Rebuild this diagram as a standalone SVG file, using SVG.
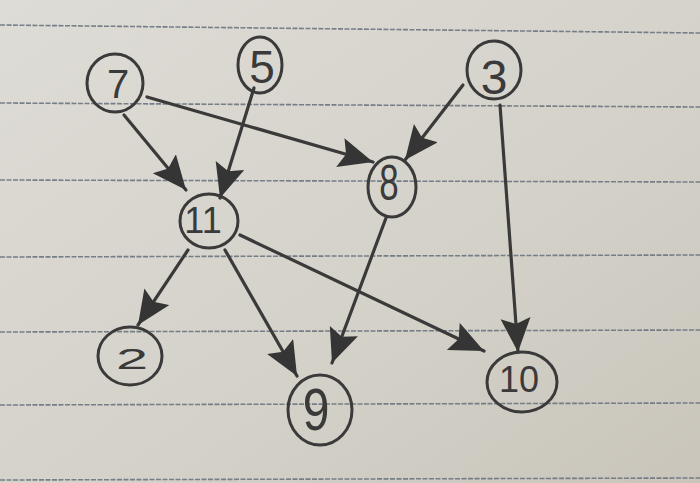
<svg xmlns="http://www.w3.org/2000/svg" width="700" height="483" viewBox="0 0 700 483">
<defs>
<linearGradient id="paper" x1="0" y1="0" x2="1" y2="1">
<stop offset="0" stop-color="#dedcd6"/>
<stop offset="0.6" stop-color="#d4d1c9"/>
<stop offset="1" stop-color="#c9c5bb"/>
</linearGradient>
<marker id="arrow" markerUnits="userSpaceOnUse" markerWidth="38" markerHeight="34" refX="34" refY="15" orient="auto">
<path d="M0,0 L34,15 L0,30 L6,15 z" fill="#363535"/>
</marker>
<style>
.rule{stroke:#6a7480;stroke-width:1.6;stroke-dasharray:5 1.5;fill:none;opacity:0.9}
.node ellipse{fill:none;stroke:#3b3a3a;stroke-width:3}
.node text{font-family:"Liberation Sans","DejaVu Sans",sans-serif;fill:#3b3a3a;text-anchor:middle;dominant-baseline:central}
.edge{stroke:#3b3a3a;stroke-width:3.2;fill:none;stroke-linecap:round;marker-end:url(#arrow)}
</style>
</defs>
<rect width="700" height="483" fill="url(#paper)"/>
<g id="rules">
<line class="rule" x1="0" y1="25" x2="700" y2="33"/>
<line class="rule" x1="0" y1="103" x2="700" y2="107"/>
<line class="rule" x1="0" y1="180" x2="700" y2="182"/>
<line class="rule" x1="0" y1="257" x2="700" y2="255"/>
<line class="rule" x1="0" y1="332" x2="700" y2="330"/>
<line class="rule" x1="0" y1="405" x2="700" y2="403"/>
<line class="rule" x1="0" y1="480" x2="700" y2="478"/>
</g>
<g id="connectors">
<line class="edge" x1="124" y1="115" x2="186" y2="190"/>
<line class="edge" x1="254" y1="88" x2="220" y2="198"/>
<line class="edge" x1="147" y1="97" x2="373" y2="162"/>
<line class="edge" x1="463" y1="85" x2="405" y2="160"/>
<line class="edge" x1="500" y1="105" x2="518" y2="352"/>
<line class="edge" x1="240" y1="235" x2="484" y2="351"/>
<line class="edge" x1="188" y1="250" x2="138" y2="325"/>
<line class="edge" x1="225" y1="250" x2="297" y2="376"/>
<line class="edge" x1="386" y1="218" x2="332" y2="363"/>
</g>
<g id="node7" class="node"><ellipse cx="115" cy="83" rx="28" ry="29"/><text x="118" y="84" font-size="40">7</text></g>
<g id="node5" class="node"><ellipse cx="260" cy="65" rx="22" ry="28"/><text x="262" y="67" font-size="46">5</text></g>
<g id="node3" class="node"><ellipse cx="494" cy="70" rx="27" ry="29"/><text x="494" y="77" font-size="48">3</text></g>
<g id="node11" class="node"><ellipse cx="209" cy="221" rx="29" ry="27"/><text x="203" y="220" font-size="36">11</text></g>
<g id="node8" class="node"><ellipse cx="392" cy="187" rx="24" ry="30"/><text x="389" y="183" font-size="50" transform="translate(389 183) scale(0.7 1) translate(-389 -183)">8</text></g>
<g id="node2" class="node"><ellipse cx="130" cy="356" rx="32" ry="29"/><text x="132" y="358" font-size="32" transform="translate(132 358) scale(1.8 0.95) translate(-132 -358)">2</text></g>
<g id="node9" class="node"><ellipse cx="320" cy="410" rx="32" ry="35"/><text x="316" y="410" font-size="60" transform="translate(316 410) scale(0.8 1) translate(-316 -410)">9</text></g>
<g id="node10" class="node"><ellipse cx="522" cy="382" rx="35" ry="30"/><text x="519" y="379" font-size="36">10</text></g>
</svg>
